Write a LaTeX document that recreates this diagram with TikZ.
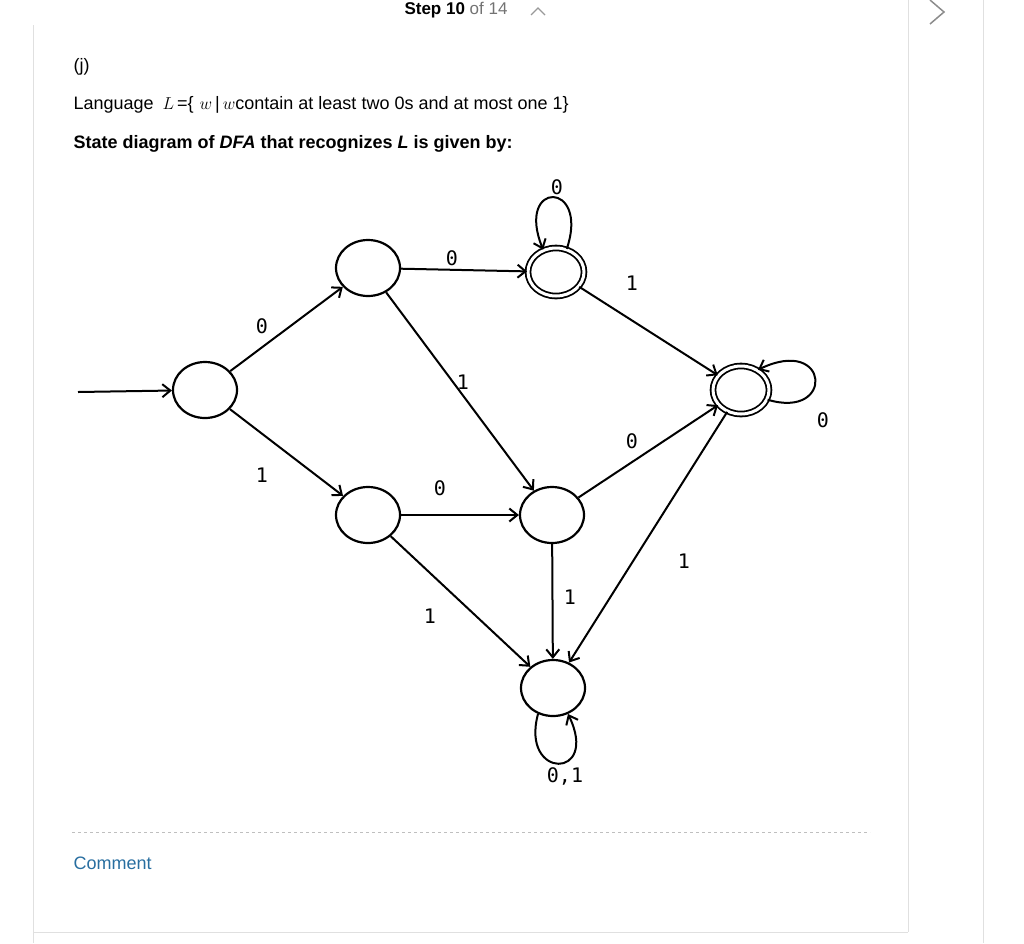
\documentclass[tikz,border=0pt]{standalone}
\usepackage{fontspec}
\setmainfont{Liberation Sans}
\newfontfamily\lbl{DejaVu Sans Mono}
\usetikzlibrary{arrows.meta,shapes.geometric}
\definecolor{cmt}{RGB}{40,110,160}
\begin{document}
\begin{tikzpicture}[x=1pt,y=-1pt,
  st/.style={draw,line width=2.2pt,ellipse,minimum width=64pt,minimum height=56pt,inner sep=0pt},
  acc/.style={st,double,double distance=3pt,line width=1.8pt,minimum width=56pt,minimum height=48pt},
  tr/.style={line width=2pt,-{Straight Barb[length=8pt,width=13pt,line width=2pt]}},
  lb/.style={font=\lbl\fontsize{20}{20}\selectfont},
  gl/.style={draw=black!12,line width=1pt}]
\useasboundingbox (0,0) rectangle (1024,943);
\draw[gl] (33,25) -- (33,943);
\draw[gl] (908,0) -- (908,932);
\draw[gl] (983,0) -- (983,943);
\draw[gl] (33,932) -- (908,932);
\draw[draw=black!25,dashed,line width=0.8pt] (72,832) -- (870,832);
\node[font=\fontsize{17}{17}\selectfont] (hd) at (456,10) {\textbf{Step 10} \textcolor{black!55}{of 14}};
\coordinate (u1) at (531,15); \coordinate (u2) at (538,8); \coordinate (u3) at (545,15);
\draw[black!40,line width=1.2pt] (u1) -- (u2) -- (u3);
\coordinate (n1) at (930,0); \coordinate (n2) at (944,12); \coordinate (n3) at (930,24);
\draw[black!45,line width=1.5pt] (n1) -- (n2) -- (n3);
\node[anchor=west,font=\fontsize{18}{18}\selectfont] (pj) at (70,67) {(j)};
\node[anchor=west,font=\fontsize{18}{18}\selectfont] (lang) at (70,105) {Language\enspace $L$\,=\{\,\,$w$\,|\,$w$contain at least two 0s and at most one 1\}};
\node[anchor=west,font=\bfseries\fontsize{18}{18}\selectfont] (sd) at (70,144) {State diagram of \textit{DFA} that recognizes \textit{L} is given by:};
\node[anchor=west,text=cmt,font=\fontsize{18}{18}\selectfont] (cm) at (70,863) {Comment};
\node[st] (q0) at (205,390) {};
\node[st] (q1) at (368,268) {};
\node[acc] (q2) at (556,272) {};
\node[acc] (q3) at (741,390) {};
\node[st] (q4) at (368,515) {};
\node[st] (q5) at (552,515) {};
\node[st] (q6) at (553,688) {};
\coordinate (s) at (78,392);
\draw[tr] (s) -- (q0);
\draw[tr] (q0) -- (q1);
\draw[tr] (q0) -- (q4);
\draw[tr] (q1) -- (q2);
\draw[tr] (q1) -- (q5);
\draw[tr] (q2) -- (q3);
\draw[tr] (q4) -- (q5);
\draw[tr] (q4) -- (q6);
\draw[tr] (q5) -- (q3);
\draw[tr] (q5) -- (q6);
\draw[tr] (q3) -- (q6);
\draw[tr] (q2.65) .. controls (590,180) and (515,180) .. (q2.120);
\draw[tr] (q3.-20) .. controls (835,420) and (830,335) .. (q3.50);
\draw[tr] (q6.-120) .. controls (520,780) and (600,780) .. (q6.-60);
\node[lb] (l1) at (262,326) {0};
\node[lb] (l2) at (262,475) {1};
\node[lb] (l3) at (452,258) {0};
\node[lb] (l4) at (463,382) {1};
\node[lb] (l5) at (557,187) {0};
\node[lb] (l6) at (632,283) {1};
\node[lb] (l7) at (440,488) {0};
\node[lb] (l8) at (430,616) {1};
\node[lb] (l9) at (632,441) {0};
\node[lb] (l10) at (570,597) {1};
\node[lb] (l11) at (684,561) {1};
\node[lb] (l12) at (823,420) {0};
\node[lb] (l13) at (565,776) {0,1};
\end{tikzpicture}
\end{document}
